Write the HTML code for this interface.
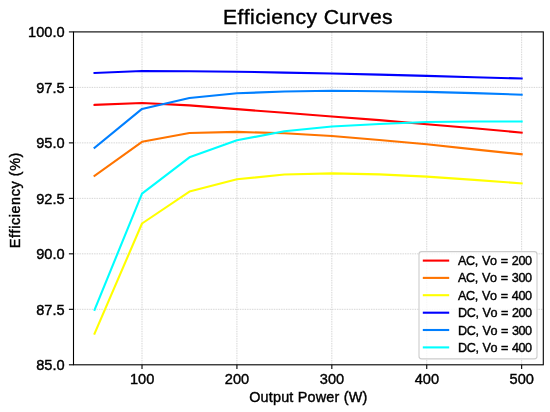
<!DOCTYPE html>
<html lang="en"><head><meta charset="utf-8"><title>Efficiency Curves</title>
<style>
html,body{margin:0;padding:0;background:#fff;}
body{width:550px;height:412px;overflow:hidden;}
svg{display:block;}
svg text{font-family:"Liberation Sans",Arial,Helvetica,sans-serif;fill:#000;stroke:#000;stroke-width:0.4px;font-kerning:none;}
.tk{font-size:14.6px;letter-spacing:0px;}
.lg{font-size:12.6px;word-spacing:1.0px;}
.al{font-size:14.4px;}
.tt{font-size:21.1px;}
</style></head><body>
<svg width="550" height="412" viewBox="0 0 550 412">
<rect x="0" y="0" width="550" height="412" fill="#ffffff"/>
<g stroke="#b8b8b8" stroke-width="0.75" stroke-dasharray="0.8 0.9" fill="none">
<line x1="142.01" y1="31.9" x2="142.01" y2="364.8"/>
<line x1="236.92" y1="31.9" x2="236.92" y2="364.8"/>
<line x1="331.83" y1="31.9" x2="331.83" y2="364.8"/>
<line x1="426.74" y1="31.9" x2="426.74" y2="364.8"/>
<line x1="521.65" y1="31.9" x2="521.65" y2="364.8"/>
<line x1="73.5" y1="309.32" x2="543.3" y2="309.32"/>
<line x1="73.5" y1="253.83" x2="543.3" y2="253.83"/>
<line x1="73.5" y1="198.35" x2="543.3" y2="198.35"/>
<line x1="73.5" y1="142.87" x2="543.3" y2="142.87"/>
<line x1="73.5" y1="87.38" x2="543.3" y2="87.38"/>
</g>
<g fill="none" stroke-width="2.1" stroke-linejoin="round" stroke-linecap="square">
<polyline stroke="#ff0000" points="94.55,104.90 142.01,103.00 189.46,105.40 236.92,109.10 284.37,112.80 331.83,116.50 379.28,120.10 426.74,124.20 474.19,128.30 521.65,132.60"/>
<polyline stroke="#ff7400" points="94.55,175.90 142.01,141.80 189.46,133.00 236.92,131.90 284.37,133.30 331.83,136.00 379.28,140.00 426.74,144.20 474.19,149.40 521.65,154.30"/>
<polyline stroke="#ffff00" points="94.55,333.70 142.01,223.50 189.46,191.60 236.92,179.30 284.37,174.50 331.83,173.40 379.28,174.40 426.74,176.60 474.19,179.90 521.65,183.40"/>
<polyline stroke="#0000ff" points="94.55,72.95 142.01,71.00 189.46,71.20 236.92,71.70 284.37,72.60 331.83,73.50 379.28,74.60 426.74,75.90 474.19,77.20 521.65,78.50"/>
<polyline stroke="#007fff" points="94.55,147.70 142.01,108.90 189.46,98.00 236.92,93.30 284.37,91.50 331.83,90.80 379.28,91.20 426.74,91.90 474.19,93.15 521.65,94.70"/>
<polyline stroke="#00ffff" points="94.55,309.80 142.01,193.70 189.46,157.30 236.92,140.30 284.37,131.30 331.83,126.50 379.28,124.00 426.74,122.00 474.19,121.50 521.65,121.50"/>
</g>
<rect x="73.5" y="31.9" width="469.80" height="332.90" fill="none" stroke="#000" stroke-width="1.1"/>
<g stroke="#000" stroke-width="1.1">
<line x1="142.01" y1="364.8" x2="142.01" y2="369.00"/>
<line x1="236.92" y1="364.8" x2="236.92" y2="369.00"/>
<line x1="331.83" y1="364.8" x2="331.83" y2="369.00"/>
<line x1="426.74" y1="364.8" x2="426.74" y2="369.00"/>
<line x1="521.65" y1="364.8" x2="521.65" y2="369.00"/>
<line x1="68.90" y1="364.80" x2="73.5" y2="364.80"/>
<line x1="68.90" y1="309.32" x2="73.5" y2="309.32"/>
<line x1="68.90" y1="253.83" x2="73.5" y2="253.83"/>
<line x1="68.90" y1="198.35" x2="73.5" y2="198.35"/>
<line x1="68.90" y1="142.87" x2="73.5" y2="142.87"/>
<line x1="68.90" y1="87.38" x2="73.5" y2="87.38"/>
<line x1="68.90" y1="31.90" x2="73.5" y2="31.90"/>
</g>
<text class="tk" x="142.14" y="384.3" text-anchor="middle">100</text>
<text class="tk" x="237.05" y="384.3" text-anchor="middle">200</text>
<text class="tk" x="331.96" y="384.3" text-anchor="middle">300</text>
<text class="tk" x="426.87" y="384.3" text-anchor="middle">400</text>
<text class="tk" x="521.78" y="384.3" text-anchor="middle">500</text>
<text class="tk" x="64.6" y="370.10" text-anchor="end">85.0</text>
<text class="tk" x="64.6" y="314.62" text-anchor="end">87.5</text>
<text class="tk" x="64.6" y="259.13" text-anchor="end">90.0</text>
<text class="tk" x="64.6" y="203.65" text-anchor="end">92.5</text>
<text class="tk" x="64.6" y="148.17" text-anchor="end">95.0</text>
<text class="tk" x="64.6" y="92.68" text-anchor="end">97.5</text>
<text class="tk" x="64.6" y="37.20" text-anchor="end">100.0</text>
<text class="al" x="249.2" y="402.2" textLength="118" lengthAdjust="spacing">Output Power (W)</text>
<text class="al" transform="translate(20.2,248.2) rotate(-90)" textLength="95.6" lengthAdjust="spacing">Efficiency (%)</text>
<text class="tt" x="223.0" y="24.2" textLength="169.6" lengthAdjust="spacing">Efficiency Curves</text>
<rect x="419.0" y="251.6" width="118.0" height="107.3" rx="2.6" ry="2.6" fill="#ffffff" fill-opacity="0.8" stroke="#cccccc" stroke-width="1.1"/>
<line x1="422.8" y1="260.6" x2="449.2" y2="260.6" stroke="#ff0000" stroke-width="2.1"/>
<text class="lg" x="458.1" y="265.10" textLength="74" lengthAdjust="spacing">AC, Vo = 200</text>
<line x1="422.8" y1="277.9" x2="449.2" y2="277.9" stroke="#ff7400" stroke-width="2.1"/>
<text class="lg" x="458.1" y="282.40" textLength="74" lengthAdjust="spacing">AC, Vo = 300</text>
<line x1="422.8" y1="295.2" x2="449.2" y2="295.2" stroke="#ffff00" stroke-width="2.1"/>
<text class="lg" x="458.1" y="299.70" textLength="74" lengthAdjust="spacing">AC, Vo = 400</text>
<line x1="422.8" y1="312.7" x2="449.2" y2="312.7" stroke="#0000ff" stroke-width="2.1"/>
<text class="lg" x="458.1" y="317.20" textLength="74" lengthAdjust="spacing">DC, Vo = 200</text>
<line x1="422.8" y1="330.0" x2="449.2" y2="330.0" stroke="#007fff" stroke-width="2.1"/>
<text class="lg" x="458.1" y="334.50" textLength="74" lengthAdjust="spacing">DC, Vo = 300</text>
<line x1="422.8" y1="347.4" x2="449.2" y2="347.4" stroke="#00ffff" stroke-width="2.1"/>
<text class="lg" x="458.1" y="351.90" textLength="74" lengthAdjust="spacing">DC, Vo = 400</text>
</svg>
</body></html>
